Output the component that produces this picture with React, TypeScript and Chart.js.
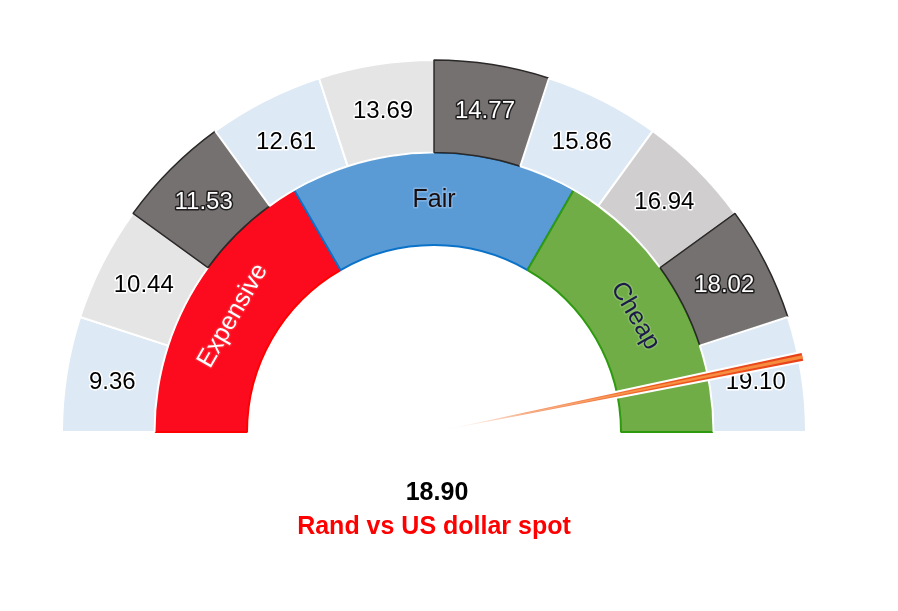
import { useEffect, useRef } from "react";
import { Chart, ArcElement, DoughnutController } from "chart.js";

Chart.register(ArcElement, DoughnutController);

// outer band ticks (one bin per tick, equal widths)
const outerTicks = ["9.36", "10.44", "11.53", "12.61", "13.69", "14.77", "15.86", "16.94", "18.02", "19.10"];
const outerWeights = [1, 1, 1, 1, 1, 1, 1, 1, 1, 1];

// valuation zones
const zoneLabels = ["Expensive", "Fair", "Cheap"];
const zoneWeights = [1, 1, 1];

// needle
const spotValue = 18.9;
const gaugeMin = 8.82;
const gaugeMax = 19.59;
const spotLabel = "18.90";
const chartTitle = "Rand vs US dollar spot";

const FONT = "'Liberation Sans', Arial, sans-serif";

const LIGHT_BLUE = "#dde9f5";
const LIGHT_GRAY = "#e6e5e5";
const MID_GRAY = "#d0cece";
const DARK = "#767171";

const outerFill = [LIGHT_BLUE, LIGHT_GRAY, DARK, LIGHT_BLUE, LIGHT_GRAY, DARK, LIGHT_BLUE, MID_GRAY, DARK, LIGHT_BLUE];
const outerBorder = outerFill.map((c) => (c === DARK ? "#2b2828" : "#ffffff"));
const outerBorderW = outerFill.map((c) => (c === DARK ? 1.5 : 2));

const zoneFill = ["#fc0b1e", "#5b9bd5", "#70ad47"];
const zoneBorder = ["#ff0000", "#0a72c8", "#2e9a10"];
const zoneText = ["#ffffff", "#1a0d0d", "#1c1a4a"];
const zoneHalo = ["#ff2030", "#7fb2e2", "#86bb62"];

const labelPlugin = {
  id: "gaugeLabels",
  afterDatasetsDraw(chart: any) {
    const ctx: CanvasRenderingContext2D = chart.ctx;
    chart.data.datasets.forEach((_ds: any, di: number) => {
      const meta = chart.getDatasetMeta(di);
      meta.data.forEach((arc: any, i: number) => {
        const p = arc.getProps(["x", "y", "startAngle", "endAngle", "innerRadius", "outerRadius"], true);
        const mid = (p.startAngle + p.endAngle) / 2;
        const r = (p.innerRadius + p.outerRadius) / 2;
        ctx.save();
        ctx.translate(p.x + Math.cos(mid) * r, p.y + Math.sin(mid) * r);
        ctx.textAlign = "center";
        ctx.textBaseline = "middle";
        ctx.lineJoin = "round";
        let fill = "#000000";
        let halo = "#ffffff";
        let text = "";
        if (di === 0) {
          text = outerTicks[i];
          ctx.font = `24px ${FONT}`;
          if (outerFill[i] === DARK) {
            fill = "#ffffff";
            halo = "#1e1c1c";
          }
        } else {
          text = zoneLabels[i];
          ctx.rotate(mid + Math.PI / 2);
          ctx.font = `25px ${FONT}`;
          fill = zoneText[i];
          halo = zoneHalo[i];
        }
        ctx.strokeStyle = halo;
        ctx.lineWidth = 3;
        ctx.strokeText(text, 0, 1);
        ctx.fillStyle = fill;
        ctx.fillText(text, 0, 1);
        ctx.restore();
      });
    });
  },
};

const needlePlugin = {
  id: "gaugeNeedle",
  afterDraw(chart: any) {
    const ctx: CanvasRenderingContext2D = chart.ctx;
    const arc = chart.getDatasetMeta(0).data[0];
    const { x, y, outerRadius } = arc.getProps(["x", "y", "outerRadius"], true);
    const frac = (spotValue - gaugeMin) / (gaugeMax - gaugeMin);
    const ang = -Math.PI + frac * Math.PI;
    const len = outerRadius + 4;
    const tx = x + Math.cos(ang) * len;
    const ty = y + Math.sin(ang) * len;
    const nx = -Math.sin(ang);
    const ny = Math.cos(ang);
    const half = 4;
    ctx.save();
    ctx.beginPath();
    ctx.moveTo(x, y);
    ctx.lineTo(tx + nx * half, ty + ny * half);
    ctx.lineTo(tx - nx * half, ty - ny * half);
    ctx.closePath();
    ctx.strokeStyle = "#ffffff";
    ctx.lineWidth = 4;
    ctx.lineJoin = "round";
    ctx.stroke();
    const g = ctx.createLinearGradient(x, y, tx, ty);
    g.addColorStop(0, "rgba(255,255,255,0)");
    g.addColorStop(0.25, "rgba(240,120,60,0.7)");
    g.addColorStop(0.6, "#ee5a1e");
    g.addColorStop(1, "#e8401a");
    ctx.fillStyle = g;
    ctx.fill();
    // orange core
    ctx.beginPath();
    ctx.moveTo(x, y);
    ctx.lineTo(tx + nx * half * 0.4, ty + ny * half * 0.4);
    ctx.lineTo(tx - nx * half * 0.4, ty - ny * half * 0.4);
    ctx.closePath();
    const g2 = ctx.createLinearGradient(x, y, tx, ty);
    g2.addColorStop(0, "rgba(255,255,255,0)");
    g2.addColorStop(0.5, "rgba(250,160,80,0.8)");
    g2.addColorStop(1, "#f58a3a");
    ctx.fillStyle = g2;
    ctx.fill();
    ctx.restore();
  },
};

export default function App() {
  const canvasRef = useRef<HTMLCanvasElement>(null);
  const chartRef = useRef<Chart | null>(null);

  useEffect(() => {
    if (!canvasRef.current) return;
    if (chartRef.current) chartRef.current.destroy();

    chartRef.current = new Chart(canvasRef.current, {
      type: "doughnut",
      data: {
        labels: outerTicks,
        datasets: [
          {
            data: outerWeights,
            backgroundColor: outerFill,
            borderColor: outerBorder,
            borderWidth: outerBorderW,
          },
          {
            data: zoneWeights,
            backgroundColor: zoneFill,
            borderColor: zoneBorder,
            borderWidth: 2,
          },
        ],
      },
      options: {
        responsive: false,
        animation: false,
        rotation: -90,
        circumference: 180,
        radius: 372,
        cutout: `${(187 / 372) * 100}%`,
        layout: { padding: { left: 0, right: 30, top: 0, bottom: 119 } },
        plugins: {
          legend: { display: false },
          tooltip: { enabled: false },
        },
        events: [],
      } as any,
      plugins: [labelPlugin, needlePlugin],
    });

    return () => {
      if (chartRef.current) chartRef.current.destroy();
      chartRef.current = null;
    };
  }, []);

  return (
    <div style={{ position: "fixed", left: 0, top: 0, width: 898, height: 611, background: "#fff" }}>
      <canvas ref={canvasRef} width={898} height={611} />
      <div
        style={{
          position: "absolute",
          left: 0,
          width: 874,
          top: 479,
          textAlign: "center",
          font: `bold 25px ${FONT}`,
          lineHeight: "25px",
          color: "#000",
        }}
      >
        {spotLabel}
      </div>
      <div
        style={{
          position: "absolute",
          left: 0,
          width: 868,
          top: 513,
          textAlign: "center",
          font: `bold 25px ${FONT}`,
          lineHeight: "25px",
          color: "#ff0000",
        }}
      >
        {chartTitle}
      </div>
    </div>
  );
}
